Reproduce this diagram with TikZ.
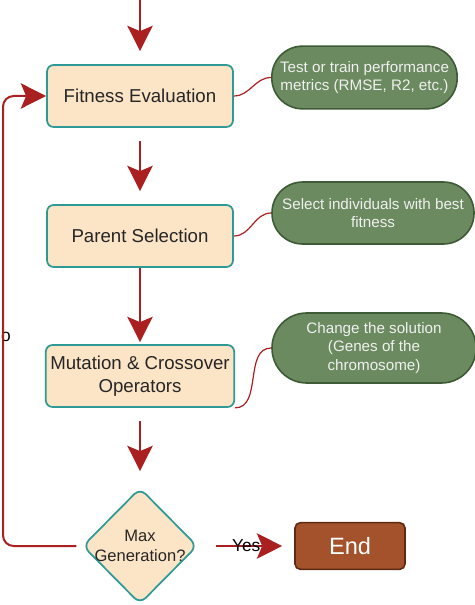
\documentclass[tikz,border=0pt]{standalone}
\usepackage{fontspec}
\setmainfont{Liberation Sans}
\usetikzlibrary{positioning}
\usetikzlibrary{shapes.geometric}
\usetikzlibrary{arrows.meta}
\definecolor{peach}{HTML}{FCE4C6}
\definecolor{stepline}{HTML}{2E9A96}
\definecolor{arrowred}{HTML}{AA1F1F}
\definecolor{notegreen}{HTML}{6B8A5F}
\definecolor{noteline}{HTML}{3F5A36}
\definecolor{endbrown}{HTML}{A3522C}
\definecolor{endline}{HTML}{5E2A12}

\begin{document}
\begin{tikzpicture}[x=0.75pt, y=-0.75pt,
	stepbox/.style={rectangle, rounded corners=5pt, draw=stepline, line width=1.3pt, fill=peach, minimum width=139.5pt, minimum height=46.5pt, align=center, text=black!85, font=\fontsize{14}{17}\selectfont},
	decision/.style={diamond, rounded corners=6pt, draw=stepline, line width=1.3pt, fill=peach, minimum width=86pt, minimum height=87pt, inner sep=0pt},
	note/.style={rectangle, rounded corners=23pt, draw=noteline, line width=1.2pt, fill=notegreen, align=center, text=white!94!black, font=\fontsize{11.4}{14}\selectfont},
	endbox/.style={rectangle, rounded corners=4pt, draw=endline, line width=1.2pt, fill=endbrown, minimum width=82.5pt, minimum height=35pt, text=white, font=\fontsize{17.7}{20}\selectfont},
	flow/.style={draw=arrowred, line width=1.5pt, -{Stealth[length=19pt, width=19pt, inset=4pt]}},
	link/.style={draw=arrowred, line width=0.9pt}]
			\useasboundingbox (0,0) rectangle (474,605);
			% Steps
			\coordinate (start) at (140,0);
			\node[stepbox] (fit) at (140,96) {Fitness Evaluation};
			\node[stepbox] (sel) at (140,236) {Parent Selection};
			\node[stepbox] (mut) at (140,376) {Mutation \& Crossover\\Operators};
			\node[decision] (dec) at (140,546) {};
			\node[align=center, text=black!85, font=\fontsize{12.4}{15.5}\selectfont] (dectext) at (dec) {Max\\Generation?};
			\node[endbox] (finish) at (350,546) {End};
			% Notes
			\node[note, minimum width=139pt, minimum height=47pt] (cb1) at (364.5,77.5) {Test or train performance\\metrics (RMSE, R2, etc.)};
			\node[note, minimum width=151.5pt, minimum height=46.5pt] (cb2) at (373,213) {Select individuals with best\\fitness};
			\node[note, rounded corners=26pt, minimum width=153pt, minimum height=52.5pt] (cb3) at (374,348) {Change the solution\\(Genes of the\\chromosome)};
			\node[font=\fontsize{13}{15}\selectfont] (no) at (6,337) {o};
			% Connections
			\draw[flow, shorten >=9.75pt] (start) -- (fit.north);
			\draw[flow, shorten <=9.75pt, shorten >=9.75pt] (fit.south) -- (sel.north);
			\draw[flow, shorten >=1.5pt] (sel.south) -- (mut.north);
			\draw[flow, shorten <=9.75pt, shorten >=12pt] (mut.south) -- (dec.north);
			\draw[flow, shorten <=13pt, shorten >=9pt] (dec.east) -- node[text=black, font=\fontsize{13}{15}\selectfont] (yes) {Yes} (finish.west);
			\coordinate (back) at (3,546);
			\draw[flow, rounded corners=8pt, shorten <=4pt] (dec.west) -- (back) |- (fit.west);
			% Note links
			\draw[link] (fit.east) to[out=0, in=180] (cb1.west);
			\draw[link] (sel.east) to[out=0, in=180] (cb2.west);
			\draw[link] (mut.south east) to[out=0, in=180] (cb3.west);
		\end{tikzpicture}
\end{document}
